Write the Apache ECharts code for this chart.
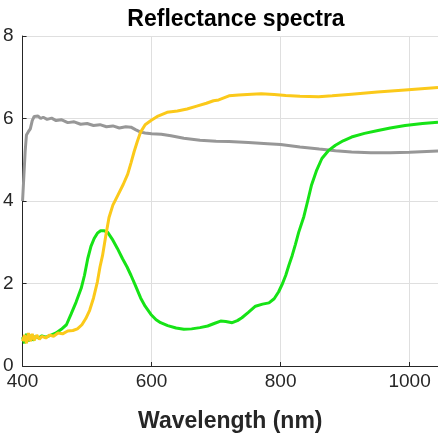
<!DOCTYPE html>
<html lang="en">
  <head>
    <meta charset="UTF-8" />
    <title>Reflectance spectra</title>
    <script src="https://cdn.jsdelivr.net/npm/echarts@6/dist/echarts.min.js"></script>
    <style>
      body { margin: 0; background: #ffffff; }
      #chart { width: 438px; height: 438px; }
    </style>
  </head>
  <body>
    <div id="chart"></div>
    <script>
      // [wavelength (nm), reflectance]
      var grayData = [
        [400, 4.0], [402, 4.6], [404, 5.2], [406, 5.6], [409, 5.68], [412, 5.75],
        [415, 5.95], [418, 6.05], [421, 6.02], [424, 6.06], [428, 6.0], [432, 6.03],
        [438, 5.98], [445, 6.01], [452, 5.95], [460, 5.97], [470, 5.9], [480, 5.92],
        [490, 5.86], [500, 5.88], [510, 5.83], [520, 5.85], [530, 5.8], [540, 5.82],
        [550, 5.77], [560, 5.8], [568, 5.79], [575, 5.73], [583, 5.67], [590, 5.65],
        [600, 5.63], [615, 5.62], [630, 5.58], [650, 5.52], [675, 5.47], [700, 5.45],
        [720, 5.44], [750, 5.42], [780, 5.39], [800, 5.37], [830, 5.31], [860, 5.26],
        [885, 5.22], [910, 5.19], [940, 5.17], [970, 5.17], [1000, 5.18], [1044, 5.21]
      ];
      var yellowData = [
        [400, 0.6], [403, 0.75], [406, 0.55], [409, 0.8], [412, 0.6], [415, 0.78],
        [418, 0.62], [422, 0.75], [426, 0.65], [430, 0.72], [436, 0.68], [442, 0.75],
        [448, 0.72], [455, 0.8], [462, 0.78], [470, 0.85], [478, 0.86], [485, 0.9],
        [492, 1.0], [498, 1.15], [504, 1.35], [510, 1.65], [516, 2.04], [520, 2.4],
        [524, 2.68], [529, 3.16], [534, 3.6], [540, 3.9], [548, 4.15], [556, 4.4],
        [563, 4.65], [568, 4.92], [573, 5.2], [578, 5.45], [583, 5.67], [590, 5.85],
        [599, 5.95], [610, 6.06], [624, 6.15], [640, 6.18], [655, 6.23], [670, 6.3],
        [685, 6.37], [696, 6.43], [704, 6.45], [712, 6.5], [720, 6.55], [735, 6.57],
        [755, 6.59], [770, 6.6], [790, 6.58], [808, 6.56], [830, 6.54], [859, 6.53],
        [880, 6.55], [910, 6.59], [950, 6.64], [993, 6.69], [1044, 6.75]
      ];
      var greenData = [
        [400, 0.7], [403, 0.55], [406, 0.78], [409, 0.6], [412, 0.75], [416, 0.62],
        [420, 0.72], [425, 0.68], [430, 0.73], [436, 0.7], [444, 0.75], [452, 0.8],
        [460, 0.89], [468, 1.0], [475, 1.25], [483, 1.55], [491, 1.89], [496, 2.2],
        [501, 2.6], [506, 2.9], [511, 3.09], [516, 3.22], [521, 3.28], [526, 3.28],
        [532, 3.24], [540, 3.05], [547, 2.85], [555, 2.6], [562, 2.4], [568, 2.2],
        [575, 1.95], [583, 1.65], [590, 1.45], [599, 1.25], [607, 1.12], [614, 1.05],
        [625, 0.98], [638, 0.92], [650, 0.89], [662, 0.9], [675, 0.93], [687, 0.97],
        [697, 1.03], [707, 1.09], [715, 1.08], [725, 1.05], [733, 1.1], [740, 1.17],
        [750, 1.3], [761, 1.45], [772, 1.5], [782, 1.53], [790, 1.63], [797, 1.8],
        [803, 2.0], [808, 2.2], [813, 2.45], [818, 2.68], [823, 2.95], [828, 3.24],
        [836, 3.62], [842, 4.0], [848, 4.39], [856, 4.75], [864, 5.03], [874, 5.22],
        [885, 5.35], [897, 5.46], [910, 5.55], [930, 5.64], [951, 5.71], [970, 5.77],
        [993, 5.83], [1020, 5.88], [1044, 5.91]
      ];

      var chart = echarts.init(document.getElementById("chart"));

      function line(name, data, color) {
        return {
          name: name,
          type: "line",
          data: data,
          showSymbol: false,
          lineStyle: { color: color, width: 3 },
        };
      }

      var options = {
        animation: false,
        title: {
          text: "Reflectance spectra",
          left: 231,
          top: 3,
          textAlign: "center",
          textStyle: {
            fontFamily: "Liberation Sans",
            fontSize: 23,
            fontWeight: "bold",
            color: "#000",
          },
        },
        grid: { left: 21, top: 36, right: 0, bottom: 68 },
        xAxis: {
          type: "value",
          min: 400,
          max: 1044,
          interval: 200,
          name: "Wavelength (nm)",
          nameLocation: "middle",
          nameGap: 44,
          nameTextStyle: {
            fontFamily: "Liberation Sans",
            fontSize: 23,
            fontWeight: "bold",
            color: "#262626",
          },
          axisLine: { lineStyle: { color: "#262626", width: 1 } },
          axisTick: { inside: true, length: 4, lineStyle: { color: "#262626" } },
          axisLabel: {
            fontFamily: "Liberation Sans",
            fontSize: 19,
            color: "#262626",
            margin: 6,
            showMaxLabel: false,
            formatter: function (v) { return String(v); },
          },
          splitLine: { lineStyle: { color: "#dfdfdf" } },
        },
        yAxis: {
          type: "value",
          min: 0,
          max: 8,
          interval: 2,
          axisLine: { show: true, lineStyle: { color: "#262626", width: 1 } },
          axisTick: { show: true, inside: true, length: 4, lineStyle: { color: "#262626" } },
          axisLabel: {
            fontFamily: "Liberation Sans",
            fontSize: 19,
            color: "#262626",
            margin: 9,
          },
          splitLine: { lineStyle: { color: "#dfdfdf" } },
        },
        series: [
          line("gray", grayData, "#979797"),
          line("green", greenData, "#16e316"),
          line("yellow", yellowData, "#fbc91a"),
        ],
      };

      chart.setOption(options);
    </script>
  </body>
</html>
